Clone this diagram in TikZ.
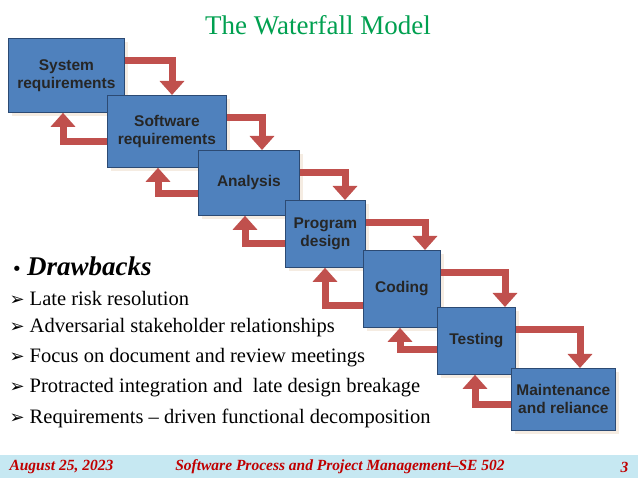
\documentclass[tikz,border=0pt]{standalone}
\usepackage{fontspec}
\setmainfont{Liberation Serif}
\newfontfamily\arialf{Liberation Sans}
\newfontfamily\djv{DejaVu Sans}
\usetikzlibrary{arrows.meta,calc,shadows}
\definecolor{boxblue}{HTML}{4F81BD}
\definecolor{boxedge}{HTML}{2C4A73}
\definecolor{arr}{HTML}{C0504D}
\definecolor{ttl}{HTML}{00A050}
\definecolor{foot}{HTML}{C00000}
\definecolor{band}{HTML}{C6E8F2}
\tikzset{
 phase/.style={draw=boxedge,line width=0.8pt,fill=boxblue,align=center,anchor=north west,inner sep=0pt,
   font=\arialf\bfseries\fontsize{15.5}{18}\selectfont,text=black!85,
   drop shadow={shadow xshift=4pt,shadow yshift=-4pt,fill=brown!15,opacity=1}},
 flow/.style={draw=arr,line width=7pt,-{Triangle[width=24pt,length=14pt]},line join=miter},
 item/.style={anchor=west,font=\fontsize{20.5}{22}\selectfont},
}
\newcommand{\bul}{{\djv\fontsize{18}{20}\selectfont ➢}\ }
\begin{document}
\begin{tikzpicture}[x=1pt,y=-1pt]
\useasboundingbox (0,0) rectangle (638,478);
\fill[white] (0,0) rectangle (638,478);
\fill[band] (0,455) rectangle (638,478);
\node[text=ttl,font=\fontsize{27}{29}\selectfont] (title) at (318,25) {The Waterfall Model};
\node[phase,minimum width=116,minimum height=74] (b1) at (8,38) {System\\requirements};
\node[phase,minimum width=119,minimum height=72] (b2) at (107,95) {Software\\requirements};
\node[phase,minimum width=101,minimum height=65] (b3) at (198,150) {Analysis};
\node[phase,minimum width=80,minimum height=67] (b4) at (285,200) {Program\\design};
\node[phase,minimum width=77,minimum height=77] (b5) at (363,250) {Coding};
\node[phase,minimum width=78,minimum height=67] (b6) at (437,307) {Testing};
\node[phase,minimum width=104,minimum height=62] (b7) at (511,368) {Maintenance\\and reliance};
% forward arrows
\draw[flow] ($(b1.north east)+(0,23)$) -| ([xshift=65]b2.north west);
\draw[flow] ($(b2.north east)+(0,23)$) -| ([xshift=64]b3.north west);
\draw[flow] ($(b3.north east)+(0,23)$) -| ([xshift=60]b4.north west);
\draw[flow] ($(b4.north east)+(0,23)$) -| ([xshift=62]b5.north west);
\draw[flow] ($(b5.north east)+(0,23)$) -| ([xshift=68]b6.north west);
\draw[flow] ($(b6.north east)+(0,23)$) -| ([xshift=69]b7.north west);
% back arrows
\draw[flow] ($(b2.south west)+(0,-26)$) -| ([xshift=55]b1.south west);
\draw[flow] ($(b3.south west)+(0,-22)$) -| ([xshift=51]b2.south west);
\draw[flow] ($(b4.south west)+(0,-24)$) -| ([xshift=47]b3.south west);
\draw[flow] ($(b5.south west)+(0,-22)$) -| ([xshift=40]b4.south west);
\draw[flow] ($(b6.south west)+(0,-25)$) -| ([xshift=37]b5.south west);
\draw[flow] ($(b7.south west)+(0,-26)$) -| ([xshift=38]b6.south west);
% text
\node[anchor=west] (dr) at (8,266) {{\djv\fontsize{18}{20}\selectfont•}\ \ {\fontsize{27}{29}\selectfont\bfseries\itshape Drawbacks}};
\node[item] (i1) at (6,298) {\bul Late risk resolution};
\node[item] (i2) at (6,328) {\bul Adversarial stakeholder relationships};
\node[item] (i3) at (6,358) {\bul Focus on document and review meetings};
\node[item] (i4) at (6,388) {\bul Protracted integration and\ \ late design breakage};
\node[item] (i5) at (6,418) {\bul Requirements -- driven functional decomposition};
% footer
\node[anchor=west,text=foot,font=\bfseries\itshape\fontsize{15.5}{17}\selectfont] (f1) at (6,467) {August 25, 2023};
\node[text=foot,font=\bfseries\itshape\fontsize{15.5}{17}\selectfont] (f2) at (340,467) {Software Process and Project Management--SE 502};
\node[anchor=east,text=foot,font=\bfseries\itshape\fontsize{15.5}{17}\selectfont] (f3) at (632,467) {3};
\end{tikzpicture}
\end{document}
